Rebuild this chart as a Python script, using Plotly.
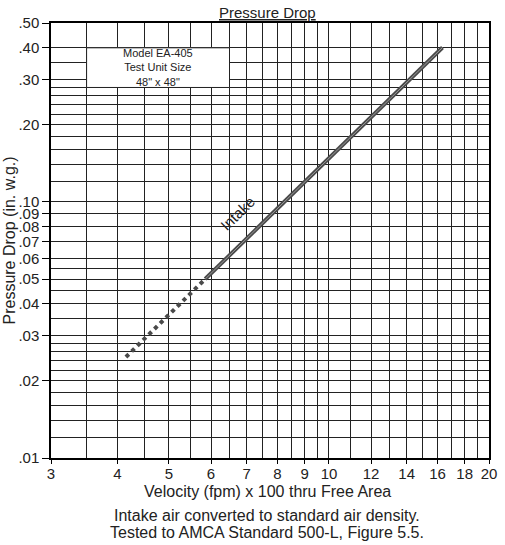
import plotly.graph_objects as go

# data
solid_velocity = [5.85, 16.35]
solid_pressure = [0.050, 0.401]
dashed_velocity = [4.15, 5.85]
dashed_pressure = [0.0248, 0.050]

x_ticks = [3, 4, 5, 6, 7, 8, 9, 10, 12, 14, 16, 18, 20]
x_minor = [3.5, 4.5, 5.5, 6.5, 7.5, 8.5, 9.5, 11, 13, 15, 17, 19]
y_ticks = [0.01, 0.02, 0.03, 0.04, 0.05, 0.06, 0.07, 0.08, 0.09, 0.10,
           0.20, 0.30, 0.40, 0.50]
y_labels = [".01", ".02", ".03", ".04", ".05", ".06", ".07", ".08", ".09",
            ".10", ".20", ".30", ".40", ".50"]
y_minor = [0.012, 0.014, 0.016, 0.018, 0.022, 0.024, 0.026, 0.028, 0.035,
           0.045, 0.055, 0.12, 0.14, 0.16, 0.18, 0.22, 0.24, 0.26, 0.28, 0.35]

FONT = "Liberation Sans, Arial, sans-serif"
GRID = "#222222"
LINE = "#4a4a4a"
TXT = "#222222"

fig = go.Figure()

fig.add_trace(go.Scatter(
    x=dashed_velocity, y=dashed_pressure, mode="lines",
    line=dict(color=LINE, width=4, dash="4px,4px"), hoverinfo="skip"))
fig.add_trace(go.Scatter(
    x=solid_velocity, y=solid_pressure, mode="lines",
    line=dict(color=LINE, width=4), hoverinfo="skip"))
fig.add_trace(go.Scatter(
    x=solid_velocity, y=solid_pressure, mode="lines",
    line=dict(color="#9a9a9a", width=1), hoverinfo="skip"))

fig.update_xaxes(
    type="log", range=[0.47712, 1.30103], automargin=False,
    tickmode="array", tickvals=x_ticks, ticktext=[str(v) for v in x_ticks],
    ticks="outside", ticklen=4, tickcolor="black", ticklabelstandoff=-3,
    showgrid=True, gridcolor=GRID, gridwidth=1,
    minor=dict(tickvals=x_minor, showgrid=True, gridcolor=GRID,
               gridwidth=1, ticklen=0),
    showline=True, linecolor="black", linewidth=1.5, mirror=True,
    zeroline=False, tickfont=dict(size=15, color=TXT),
)
fig.update_yaxes(
    type="log", range=[-2, -0.30103], automargin=False,
    tickmode="array", tickvals=y_ticks, ticktext=y_labels,
    ticks="outside", ticklen=7, tickcolor="black",
    showgrid=True, gridcolor=GRID, gridwidth=1,
    minor=dict(tickvals=y_minor, showgrid=True, gridcolor=GRID,
               gridwidth=1, ticklen=0),
    showline=True, linecolor="black", linewidth=1.5, mirror=True,
    zeroline=False, tickfont=dict(size=15, color=TXT),
)

# white label box over the grid
fig.add_shape(type="rect", xref="x", yref="y", x0=3.5, x1=6.5,
              y0=0.28, y1=0.40, fillcolor="white",
              line=dict(color=GRID, width=1), layer="above")
fig.add_annotation(x=0.5 * (0.544 + 0.8129), y=0.5 * (-0.5528 - 0.3979),
                   xref="x", yref="y", showarrow=False,
                   xanchor="center", yanchor="middle",
                   text="Model EA-405<br>Test Unit Size<br>48\" x 48\"",
                   font=dict(family=FONT, size=11, color=TXT))

fig.add_annotation(x=0.8274, y=-1.044, xref="x", yref="y", showarrow=False,
                   xanchor="center", yanchor="middle",
                   text="Intake", textangle=-44,
                   font=dict(family=FONT, size=15, color=TXT))

# titles and notes, placed in pixels from the plot edges
notes = [
    ("<u>Pressure Drop</u>", 1.0, 11, 15),
    ("Velocity (fpm) x 100 thru Free Area", 0.0, -33, 16),
    ("Intake air converted to standard air density.", 0.0, -57, 16),
    ("Tested to AMCA Standard 500-L, Figure 5.5.", 0.0, -74, 16),
]
for text, ypos, shift, size in notes:
    fig.add_annotation(x=0.5, y=ypos, xref="paper", yref="paper",
                       xanchor="center", yanchor="middle",
                       xshift=-3, yshift=shift, showarrow=False, text=text,
                       font=dict(family=FONT, size=size, color=TXT))
fig.add_annotation(x=0, y=0.5, xref="paper", yref="paper", xshift=-42,
                   xanchor="center", yanchor="middle",
                   showarrow=False, textangle=-90,
                   text="Pressure Drop (in. w.g.)",
                   font=dict(family=FONT, size=16, color=TXT))

fig.update_layout(
    width=505, height=545,
    margin=dict(l=51, r=16, t=23, b=87),
    paper_bgcolor="white", plot_bgcolor="white",
    showlegend=False,
    font=dict(family=FONT, color=TXT),
)

fig.write_html("out.html", config={"displayModeBar": False},
               post_script="document.body.style.margin='0px';")
